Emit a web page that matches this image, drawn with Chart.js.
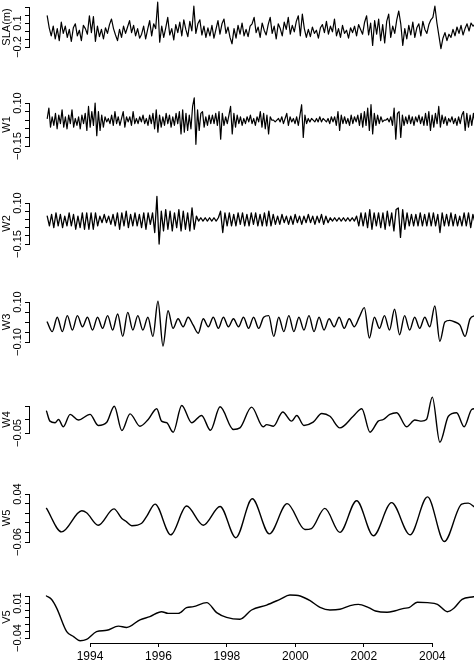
<!DOCTYPE html>
<html>
<head>
<meta charset="utf-8">
<script src="https://cdn.jsdelivr.net/npm/chart.js@4.4.1/dist/chart.umd.min.js"></script>
<style>
  html, body { margin: 0; padding: 0; background: #fff; }
  #wrap { position: relative; width: 474px; height: 660px; overflow: hidden; background: #fff; }
  #wrap canvas { position: absolute; left: 0; }
</style>
</head>
<body>
<div id="wrap"></div>
<script>
// noisy series are sampled on a regular grid between these two dates
const firstYear = 1992.75;
const lastYear = 2005.25;

// sea level anomaly, cm
const slaCm = [
  19, 4, -6, 6, -10, 3, -12, 11, -3, 6,
  -8, 2, -13, 4, 9, -6, 1, -12, 7, 3,
  -4, 19, -2, 18, -13, 6, -7, 2, -10, 4,
  -3, 8, 15, 3, -5, -12, 2, -8, 6, -3,
  5, 13, -2, 7, -6, 3, -9, -4, 6, -10,
  2, 13, -6, 9, 3, 36, -14, 6, -8, 4,
  17, -5, 3, -11, 8, -2, 11, -6, 14, 2,
  -7, 12, 0, 31, -3, 9, 14, -5, 6, -8,
  4, -6, 7, -9, 2, 13, -4, 9, 15, -3,
  5, -8, -16, 3, -9, 7, -4, 10, -6, 2,
  -7, 6, 9, 17, -2, 5, -8, 10, 1, -5,
  8, 17, -3, 6, -10, 9, 3, -6, 11, 2,
  17, -4, 7, -1, 12, 19, -6, 21, 3, -8,
  2, -7, 5, -3, 1, -9, 4, 8, -2, 12,
  -4, 6, -1, 15, -6, 3, -8, 7, -3, 1,
  -9, 4, -2, 6, -6, 8, 2, -4, 11, 19,
  -5, 10, -18, 13, -4, 15, -12, 8, -15, 12,
  21, -8, 6, -3, 14, 25, 9, -18, 3, -10,
  7, -5, 11, -8, 4, 9, -6, 12, 2, -3,
  8, 14, 17, 31, 10, -6, -22, -9, -2, -12,
  -4, -8, 2, -6, 5, -3, 7, -5, 3, 9, 0, 10, 6, 9
];

// wavelet detail W1, cm
const w1Cm = [
  1, 7, -4, 2, -3, 4, -5, 3, -2, 6,
  -4, 2, -5, 3, -2, 6, -4, 1, -3, 2,
  -5, 3, -2, 4, -6, 8, -4, 5, -3, 10,
  -9, 5, -6, 3, -4, 2, -1, 1, -2, 3,
  -3, 5, -2, 2, -3, 1, 5, -4, 2, -1,
  2, -3, 5, -2, 1, -2, 2, -1, 3, -2,
  1, -3, 3, -2, 4, -5, 6, -7, 3, -4,
  2, -3, 4, -2, 3, -4, 2, -3, 4, -2,
  5, -8, 6, -7, 4, -6, 3, -5, 8, 13,
  -14, 6, -6, 4, 5, -4, 2, -3, 3, -2,
  3, -2, 4, -3, 5, -11, 4, -3, 2, -2,
  3, 8, -8, 4, -4, 3, -2, 2, -3, 1,
  -2, 2, -1, 3, -2, 1, -3, 2, -1, 5,
  -4, 4, -5, 3, -8, 2, 0, 0, -1, 0,
  1, -1, 2, -2, 1, 4, -3, 2, -1, 1,
  -2, 2, -3, 3, 9, -10, 3, -2, 1, -1,
  1, 0, -1, 1, -1, 2, -1, 1, 0, -1,
  1, -2, 2, -1, 2, -3, 5, -6, 3, -2,
  2, -2, 1, -3, 3, -2, 2, -1, 3, -3,
  4, -4, 5, -3, 7, -6, 9, -8, 4, -3,
  3, -2, 2, -1, 0, 0, 1, -1, 2, -3,
  7, -11, 4, 5, -10, 3, -3, 2, -2, 3,
  -2, 2, -3, 2, -1, 3, -2, 2, -3, 4,
  -3, 5, -6, 3, -4, 4, -2, 8, -4, 3,
  -2, 2, -3, 1, -1, 2, -2, 1, -3, 2,
  -2, 3, 5, -6, 4, -4, 3, -3, 4, -2
];

// wavelet detail W2, cm
const w2Cm = [
  2, -4, 3, -5, 4, -4, 3, -5, 2, -4,
  4, -4, 3, -6, 2, -5, 4, -6, 4, -6,
  4, -6, 4, -4, 2, -2, 3, -2, 2, -3,
  3, -4, 4, -6, 4, -4, 5, -5, 3, -4,
  4, -4, 3, -5, 4, -6, 4, -3, 4, -8,
  14, -15, 5, -7, 6, -6, 5, -7, 4, -5,
  6, -7, 5, -6, 4, -7, 7, -6, 2, -1,
  1, -1, 1, -1, 1, -1, 1, -1, 1, 5,
  -8, 4, -4, 4, -4, 3, -4, 4, -3, 4,
  -4, 3, -4, 4, -3, 4, -4, 3, -4, 4,
  -4, 5, -4, 3, -3, 2, -3, 3, -2, 2,
  -3, 2, -3, 3, -2, 2, -3, 2, -2, 3,
  -2, 2, -3, 2, -2, 3, -3, 2, -2, 1,
  -1, 1, -1, 1, -1, 1, -1, 1, -1, 1,
  -1, 2, -4, 4, -4, 4, -5, 6, -6, 4,
  -4, 4, -5, 4, -6, 5, -4, 4, -7, 6,
  7, -11, 6, -6, 4, -4, 3, -4, 3, -4,
  4, -4, 3, -4, 4, -4, 4, -4, 3, -8,
  4, -4, 3, -4, 4, -4, 3, -4, 2, -4,
  4, -4, 4, -5, 3, -2
];

// wavelet detail W3, cm
const w3Cm = [
  0, -4.8, 2.4, -4.8, 3.2, -4, 3.2, -2.4, 2.4, -4,
  2.4, -3.2, 3.2, -4, 4, -7.2, 4.8, -4, 3.2, -4,
  2.4, -7.2, 10.4, -12, 5.6, -3.2, 1.6, -2.4, 2.4, -1.6,
  -5.6, 1.6, -2.4, 2.4, -3.2, 2.4, -2.4, 1.6, -2.4, 2.4,
  -3.2, 2.4, -3.2, 2.4, 3.2, -7.2, 2.4, -4.8, 3.2, -4.8,
  2.4, -4, 3.2, -4.8, 2.4, -4, 1.6, -2.4, 2.4, -3.2,
  1.6, -2.4, 2.4, 7.2, -8, 2.4, -3.2, 3.2, -4, 6.4,
  -6.4, 3.2, -4, 2.4, -3.2, 2.4, -2.4, 8, -9.6, 0,
  0.8, 0, -1.6, -7.2, 1.6, 3.2
];

// smoother components, read at their turning points
const w4Years = [
  1992.73, 1992.83, 1992.98, 1993.08, 1993.22, 1993.42, 1993.66, 1994.00, 1994.24, 1994.49,
  1994.71, 1994.93, 1995.17, 1995.46, 1995.70, 1995.95, 1996.09, 1996.24, 1996.43, 1996.68,
  1996.97, 1997.26, 1997.52, 1997.80, 1998.19, 1998.38, 1998.72, 1999.06, 1999.16, 1999.36,
  1999.63, 1999.89, 2000.04, 2000.25, 2000.52, 2000.77, 2001.01, 2001.30, 2001.69, 2001.94,
  2002.18, 2002.42, 2002.57, 2002.76, 2002.96, 2003.25, 2003.49, 2003.69, 2003.83, 2004.00,
  2004.22, 2004.47, 2004.71, 2004.93, 2005.15, 2005.25
];
const w4Cm = [
  3.1, -0.6, -1.2, 0, -2.7, 1.9, -0.2, 1.9, -2.2, -1.0,
  4.9, -4.1, 2.1, -2.5, 0, 4.0, -0.6, -1.2, -4.7, 5.2,
  -1.2, 1.5, -4.0, 4.7, -3.7, -3.1, 4.6, -2.7, -1.9, -2.5,
  2.8, -0.6, 1.5, -2.2, -1.0, 2.2, 1.2, -3.1, 1.2, 4.0,
  -4.7, -0.6, 0, 1.9, 2.5, -2.7, -0.2, -0.6, 0, 8.3,
  -8.4, 1.2, 2.5, -2.7, 3.7, 4.0
];

const w5Years = [
  1992.73, 1993.17, 1993.76, 1993.90, 1994.24, 1994.70, 1994.93, 1995.07, 1995.22, 1995.51,
  1995.66, 1995.90, 1996.36, 1996.82, 1997.31, 1997.80, 1998.26, 1998.74, 1999.24, 1999.76,
  2000.28, 2000.47, 2000.86, 2001.30, 2001.79, 2002.28, 2002.81, 2003.35, 2003.86, 2004.35,
  2004.86, 2005.05, 2005.25
];
const w5Cm = [
  1.0, -3.9, 0.5, 0.1, -2.5, 0.9, -1.1, -1.8, -2.6, -2.1,
  -0.6, 1.9, -4.5, 1.5, -2.5, 1.4, -5.1, 3.0, -4.3, 2.0,
  -3.4, -3.2, 1.0, -4.0, 2.6, -4.7, 2.2, -4.5, 3.4, -5.9,
  1.9, 2.1, 1.2
];

const v5Years = [
  1992.73, 1992.88, 1993.03, 1993.32, 1993.52, 1993.71, 1993.90, 1994.19, 1994.49, 1994.83,
  1995.07, 1995.46, 1995.75, 1996.09, 1996.28, 1996.58, 1996.82, 1997.02, 1997.41, 1997.70,
  1997.99, 1998.38, 1998.72, 1999.16, 1999.55, 1999.84, 2000.14, 2000.43, 2000.72, 2001.01,
  2001.30, 2001.60, 2001.84, 2002.14, 2002.34, 2002.68, 2002.92, 2003.17, 2003.32, 2003.56,
  2003.86, 2004.15, 2004.44, 2004.63, 2004.87, 2005.21
];
const v5Mm = [
  20, 15, 2.4, -31, -38, -44, -42, -31, -29, -23,
  -25, -14, -9.5, -2.4, -4.8, -4.8, 3.3, 4.8, 10.5, -3.8,
  -10.5, -13.3, 0, 7.1, 15.2, 21.4, 20, 13.3, 3.8, 0,
  1, 6.2, 8.1, 3.3, -1.4, -3.3, -1, 2.4, 3.3, 11,
  10.5, 8.1, -2.4, 2.4, 15.2, 19
];

// axes
const yearTicks = [1994, 1996, 1998, 2000, 2002, 2004];
const slaTicks = [-0.2, -0.1, 0, 0.1, 0.2, 0.3];
const slaTickText = ['\u22120.2', '', '', '0.1', '', ''];
const w1Ticks = [-0.15, -0.10, -0.05, 0, 0.05, 0.10];
const w1TickText = ['\u22120.15', '', '', '', '', '0.10'];
const w2Ticks = [-0.15, -0.10, -0.05, 0, 0.05, 0.10];
const w2TickText = ['\u22120.15', '', '', '', '', '0.10'];
const w3Ticks = [-0.10, -0.05, 0, 0.05, 0.10];
const w3TickText = ['\u22120.10', '', '', '', '0.10'];
const w4Ticks = [-0.05, 0, 0.05];
const w4TickText = ['\u22120.05', '', ''];
const w5Ticks = [-0.06, -0.04, -0.02, 0, 0.02, 0.04];
const w5TickText = ['\u22120.06', '', '', '', '', '0.04'];
const v5Ticks = [-0.04, -0.03, -0.02, -0.01, 0, 0.01, 0.02];
const v5TickText = ['\u22120.04', '', '', '', '', '0.01', ''];

const gridYears = n => Array.from({ length: n }, (_, i) => firstYear + i * (lastYear - firstYear) / (n - 1));
const toPoints = (years, vals, scale) => vals.map((v, i) => ({ x: years[i], y: v * scale }));

// page geometry (pixels)
const W = 474;
const axisX = 29;
const pxPerYear = 34.23;
const xMin = 1994 - (90 - axisX) / pxPerYear;
const xMax = xMin + (W - axisX) / pxPerYear;
const pad = 30;
const fontFamily = "'Liberation Sans', Arial, sans-serif";
const labelFont = { family: fontFamily, size: 11 };

const panels = [
  { title: 'SLA(m)', pts: toPoints(gridYears(slaCm.length), slaCm, 0.01), ticks: slaTicks, text: slaTickText, top: 7, bottom: 47, smooth: false, lw: 1.2 },
  { title: 'W1', pts: toPoints(gridYears(w1Cm.length), w1Cm, 0.01), ticks: w1Ticks, text: w1TickText, top: 103, bottom: 146, smooth: false, lw: 1.2 },
  { title: 'W2', pts: toPoints(gridYears(w2Cm.length), w2Cm, 0.01), ticks: w2Ticks, text: w2TickText, top: 203, bottom: 244, smooth: false, lw: 1.3 },
  { title: 'W3', pts: toPoints(gridYears(w3Cm.length), w3Cm, 0.01), ticks: w3Ticks, text: w3TickText, top: 302, bottom: 342, smooth: true, lw: 1.4 },
  { title: 'W4', pts: toPoints(w4Years, w4Cm, 0.01), ticks: w4Ticks, text: w4TickText, top: 406, bottom: 433, smooth: true, lw: 1.4 },
  { title: 'W5', pts: toPoints(w5Years, w5Cm, 0.01), ticks: w5Ticks, text: w5TickText, top: 494, bottom: 542, smooth: true, lw: 1.4 },
  { title: 'V5', pts: toPoints(v5Years, v5Mm, 0.001), ticks: v5Ticks, text: v5TickText, top: 596, bottom: 638, smooth: true, lw: 1.4 }
];

const wrap = document.getElementById('wrap');
const measure = document.createElement('canvas').getContext('2d');
measure.font = 'normal 11px ' + fontFamily;

function addCanvas(top, height) {
  const c = document.createElement('canvas');
  c.width = W;
  c.height = height;
  c.style.top = top + 'px';
  c.style.width = W + 'px';
  c.style.height = height + 'px';
  wrap.appendChild(c);
  return c;
}

panels.forEach(p => {
  const h = p.bottom - p.top;
  const canvas = addCanvas(p.top - pad, h + 2 * pad);
  const widest = Math.max(...p.text.map(t => measure.measureText(t).width));
  new Chart(canvas, {
    type: 'line',
    data: {
      datasets: [{
        data: p.pts,
        borderColor: '#000',
        borderWidth: p.lw,
        borderJoinStyle: 'round',
        borderCapStyle: 'round',
        pointRadius: 0,
        fill: false,
        clip: false,
        tension: p.smooth ? 0.4 : 0,
        cubicInterpolationMode: p.smooth ? 'monotone' : 'default'
      }]
    },
    options: {
      responsive: false,
      animation: false,
      events: [],
      layout: { padding: { top: pad, bottom: pad, left: 0, right: 0 } },
      plugins: { legend: { display: false }, tooltip: { enabled: false } },
      scales: {
        x: { type: 'linear', min: xMin, max: xMax, display: false },
        y: {
          type: 'linear',
          position: 'left',
          min: p.ticks[0],
          max: p.ticks[p.ticks.length - 1],
          afterBuildTicks: s => { s.ticks = p.ticks.map(v => ({ value: v })); },
          afterFit: s => { s.width = axisX; },
          border: { display: true, color: '#000', width: 1 },
          grid: { drawOnChartArea: false, drawTicks: true, tickLength: 4, color: '#000', lineWidth: 1 },
          ticks: {
            autoSkip: false,
            minRotation: 90,
            maxRotation: 90,
            crossAlign: 'center',
            padding: 7 - widest / 2,
            color: '#000',
            font: labelFont,
            callback: (v, i) => p.text[i]
          },
          title: { display: true, text: p.title, color: '#000', font: labelFont, padding: { top: 0, bottom: 0 } }
        }
      }
    }
  });
});

// bottom time axis, only between the first and last labelled year
const axisTop = 600;
const axisCanvas = addCanvas(axisTop, 660 - axisTop);
new Chart(axisCanvas, {
  type: 'line',
  data: { datasets: [{ data: [] }] },
  options: {
    responsive: false,
    animation: false,
    events: [],
    layout: { padding: { top: 0, bottom: 0, left: 90, right: W - (90 + 10 * pxPerYear) } },
    plugins: { legend: { display: false }, tooltip: { enabled: false } },
    scales: {
      x: {
        type: 'linear',
        min: yearTicks[0],
        max: yearTicks[yearTicks.length - 1],
        afterBuildTicks: s => { s.ticks = yearTicks.map(v => ({ value: v })); },
        afterFit: s => { s.height = 660 - 643; },
        border: { display: true, color: '#000', width: 1 },
        grid: { drawOnChartArea: false, drawTicks: true, tickLength: 4, color: '#000', lineWidth: 1 },
        ticks: { autoSkip: false, maxRotation: 0, padding: 2, color: '#000', font: { family: fontFamily, size: 12 }, callback: v => String(v) }
      },
      y: { display: false }
    }
  }
});
</script>
</body>
</html>
